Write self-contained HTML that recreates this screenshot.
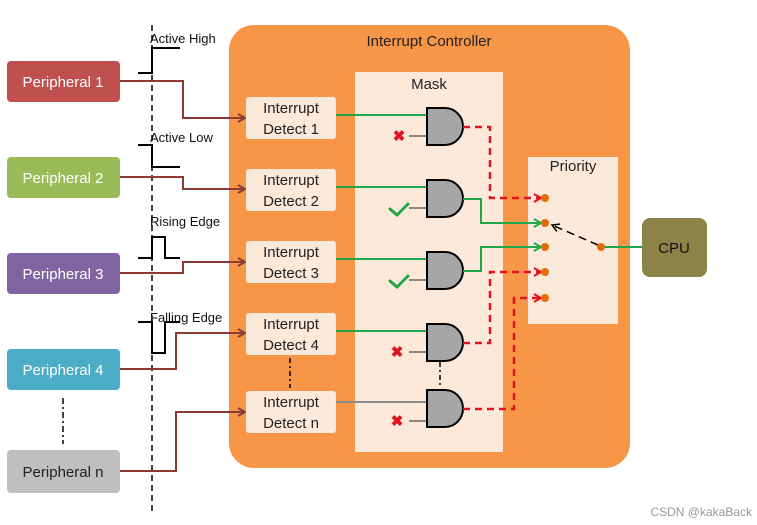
<!DOCTYPE html>
<html><head><meta charset="utf-8"><style>
html,body{margin:0;padding:0;background:#fff;}
svg{display:block;font-family:"Liberation Sans",sans-serif;}
</style></head><body>
<svg width="757" height="525" viewBox="0 0 757 525" xmlns="http://www.w3.org/2000/svg">
<defs>
<marker id="ab" markerWidth="10" markerHeight="10" refX="8" refY="5" orient="auto" markerUnits="userSpaceOnUse"><path d="M1,1 L8,5 L1,9" fill="none" stroke="#8b3a36" stroke-width="2"/></marker>
<marker id="ag" markerWidth="10" markerHeight="10" refX="8" refY="5" orient="auto" markerUnits="userSpaceOnUse"><path d="M1,1 L8,5 L1,9" fill="none" stroke="#1fa84a" stroke-width="2"/></marker>
<marker id="ar" markerWidth="10" markerHeight="10" refX="8" refY="5" orient="auto" markerUnits="userSpaceOnUse"><path d="M1,1 L8,5 L1,9" fill="none" stroke="#e0141e" stroke-width="2"/></marker>
<marker id="ak" markerWidth="10" markerHeight="10" refX="8" refY="5" orient="auto" markerUnits="userSpaceOnUse"><path d="M1,1 L8,5 L1,9" fill="none" stroke="#000" stroke-width="1.5"/></marker>
</defs>
<!-- controller -->
<rect x="229" y="25" width="401" height="443" rx="25" fill="#f79646"/>
<text x="429" y="46" font-size="15" text-anchor="middle" fill="#222">Interrupt Controller</text>
<rect x="355" y="72" width="148" height="380" fill="#fde9d9"/>
<text x="429" y="89" font-size="15" text-anchor="middle" fill="#222">Mask</text>
<rect x="528" y="157" width="90" height="167" fill="#fde9d9"/>
<text x="573" y="171" font-size="15" text-anchor="middle" fill="#222">Priority</text>
<rect x="642" y="218" width="65" height="59" rx="8" fill="#8c8349"/>
<text x="674" y="253" font-size="15" text-anchor="middle" fill="#111">CPU</text>
<!-- dashed timeline -->
<line x1="152" y1="25" x2="152" y2="512" stroke="#000" stroke-width="1.5" stroke-dasharray="6,4"/>
<!-- waveforms -->
<g fill="none" stroke="#000" stroke-width="2">
<path d="M138,73 H152 V48 H180"/>
<path d="M138,145 H152 V167 H180"/>
<path d="M138,258 H152 V237 H165 V258 H180"/>
<path d="M138,322 H152 V353 H165 V322 H180"/>
</g>
<g font-size="13" fill="#111">
<text x="150" y="43">Active High</text>
<text x="150" y="142">Active Low</text>
<text x="150" y="226">Rising Edge</text>
<text x="150" y="322">Falling Edge</text>
</g>
<!-- peripherals -->
<g font-size="15" fill="#fff" text-anchor="middle">
<rect x="7" y="61" width="113" height="41" rx="4" fill="#c0504d"/><text x="63" y="87">Peripheral 1</text>
<rect x="7" y="157" width="113" height="41" rx="4" fill="#9bbb59"/><text x="63" y="183">Peripheral 2</text>
<rect x="7" y="253" width="113" height="41" rx="4" fill="#8064a2"/><text x="63" y="279">Peripheral 3</text>
<rect x="7" y="349" width="113" height="41" rx="4" fill="#4bacc6"/><text x="63" y="375">Peripheral 4</text>
<rect x="7" y="450" width="113" height="43" rx="4" fill="#bfbfbf"/><text x="63" y="477" fill="#222">Peripheral n</text>
</g>
<line x1="63" y1="398" x2="63" y2="444" stroke="#000" stroke-width="1.5" stroke-dasharray="6,3,2,3"/>
<!-- peripheral connectors -->
<g fill="none" stroke="#8b3a36" stroke-width="2" marker-end="url(#ab)">
<path d="M120,81 H183 V118 H245"/>
<path d="M120,177 H183 V189 H245"/>
<path d="M120,273 H183 V262 H245"/>
<path d="M120,369 H176 V333 H245"/>
<path d="M120,471 H176 V412 H245"/>
</g>
<!-- detect boxes -->
<g font-size="15" fill="#222" text-anchor="middle">
<rect x="246" y="97" width="90" height="42" rx="3" fill="#fde9d9"/><text x="291" y="113">Interrupt</text><text x="291" y="134">Detect 1</text>
<rect x="246" y="169" width="90" height="42" rx="3" fill="#fde9d9"/><text x="291" y="185">Interrupt</text><text x="291" y="206">Detect 2</text>
<rect x="246" y="241" width="90" height="42" rx="3" fill="#fde9d9"/><text x="291" y="257">Interrupt</text><text x="291" y="278">Detect 3</text>
<rect x="246" y="313" width="90" height="42" rx="3" fill="#fde9d9"/><text x="291" y="329">Interrupt</text><text x="291" y="350">Detect 4</text>
<rect x="246" y="391" width="90" height="42" rx="3" fill="#fde9d9"/><text x="291" y="407">Interrupt</text><text x="291" y="428">Detect n</text>
</g>
<line x1="290" y1="358" x2="290" y2="388" stroke="#000" stroke-width="1.5" stroke-dasharray="5,3,2,3"/>
<line x1="440" y1="362" x2="440" y2="388" stroke="#000" stroke-width="1.5" stroke-dasharray="5,3,2,3"/>
<!-- gate inputs -->
<g stroke="#1fa84a" stroke-width="2">
<line x1="336" y1="115" x2="427" y2="115"/>
<line x1="336" y1="187" x2="427" y2="187"/>
<line x1="336" y1="259" x2="427" y2="259"/>
<line x1="336" y1="331" x2="427" y2="331"/>
</g>
<line x1="336" y1="402" x2="427" y2="402" stroke="#8a8a8a" stroke-width="2"/>
<g stroke="#666" stroke-width="1.5">
<line x1="409" y1="136" x2="427" y2="136"/>
<line x1="409" y1="208" x2="427" y2="208"/>
<line x1="409" y1="280" x2="427" y2="280"/>
<line x1="409" y1="352" x2="427" y2="352"/>
<line x1="409" y1="421" x2="427" y2="421"/>
</g>
<g font-size="15" font-weight="bold" fill="#e0141e" text-anchor="middle">
<text x="399" y="141">✖</text><text x="397" y="357">✖</text><text x="397" y="426">✖</text>
</g>
<g fill="none" stroke="#1fa84a" stroke-width="3" stroke-linecap="round">
<path d="M390,209 L397,215 L408,204"/>
<path d="M390,281 L397,287 L408,276"/>
</g>
<!-- gates -->
<g fill="#a6a6a6" stroke="#000" stroke-width="2">
<path d="M427,108 H445 A18,18.5 0 0 1 445,145 H427 Z"/>
<path d="M427,180 H445 A18,18.5 0 0 1 445,217 H427 Z"/>
<path d="M427,252 H445 A18,18.5 0 0 1 445,289 H427 Z"/>
<path d="M427,324 H445 A18,18.5 0 0 1 445,361 H427 Z"/>
<path d="M427,390 H445 A18,18.5 0 0 1 445,427 H427 Z"/>
</g>
<!-- outputs -->
<g fill="none" stroke="#1fa84a" stroke-width="2" marker-end="url(#ag)">
<path d="M463,199 H481 V223 H541"/>
<path d="M463,271 H481 V247 H541"/>
<path d="M601,247 H642" marker-end="none"/>
</g>
<g fill="none" stroke="#e0141e" stroke-width="2.5" stroke-dasharray="7,5" marker-end="url(#ar)">
<path d="M463,127 H490 V198 H541"/>
<path d="M463,343 H490 V272 H541"/>
<path d="M463,409 H514 V298 H541"/>
</g>
<line x1="598" y1="245" x2="552" y2="225" stroke="#000" stroke-width="1.5" stroke-dasharray="8,5" marker-end="url(#ak)"/>
<g fill="#e36c09">
<circle cx="545" cy="198" r="4"/><circle cx="545" cy="223" r="4"/><circle cx="545" cy="247" r="4"/><circle cx="545" cy="272" r="4"/><circle cx="545" cy="298" r="4"/><circle cx="601" cy="247" r="4"/>
</g>
<text x="752" y="516" font-size="12" fill="#999" text-anchor="end">CSDN @kakaBack</text>
</svg>
</body></html>
